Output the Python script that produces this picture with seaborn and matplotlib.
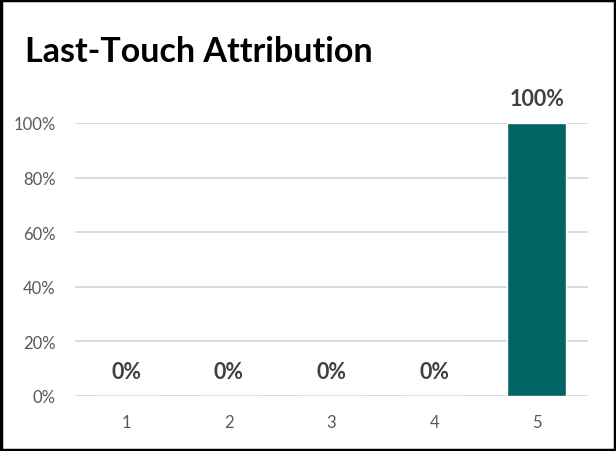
import matplotlib
matplotlib.use("Agg")
import matplotlib.pyplot as plt
import seaborn as sns
import pandas as pd
from matplotlib.patches import Rectangle
from matplotlib.ticker import PercentFormatter

categories = ["1", "2", "3", "4", "5"]
values = [0.0, 0.0, 0.0, 0.0, 1.0]
labels = ["0%", "0%", "0%", "0%", "100%"]
yticks = [0, 0.2, 0.4, 0.6, 0.8, 1.0]

sns.set_theme(style="white")
plt.rcParams["font.family"] = ["Lato", "DejaVu Sans"]

df = pd.DataFrame({"touch": categories, "share": values})

fig = plt.figure(figsize=(6.16, 4.52), dpi=100)
ax = fig.add_axes([0.1218, 0.1217, 0.8327, 0.604])
sns.barplot(data=df, x="touch", y="share", color="#016464", width=0.57,
            saturation=1, ax=ax)

ax.set_xlim(-0.5, 4.5)
ax.set_ylim(0, 1.0)
ax.set_yticks(yticks)
ax.yaxis.set_major_formatter(PercentFormatter(1.0, decimals=0))
ax.grid(axis="y", color="#d9d9d9", linewidth=1.3)
ax.set_axisbelow(True)
for s in ax.spines.values():
    s.set_visible(False)
ax.tick_params(axis="both", length=0, labelsize=12, colors="#595959")
ax.tick_params(axis="y", pad=14)
ax.tick_params(axis="x", pad=13)
ax.set_xlabel("")
ax.set_ylabel("")

for i, (v, lab) in enumerate(zip(values, labels)):
    ax.annotate(lab, xy=(i, v), xytext=(0, 10), textcoords="offset points",
                ha="center", va="bottom", fontsize=15.5, fontweight="bold",
                color="#404040")

fig.text(0.04, 0.885, "Last-Touch Attribution", fontsize=24.5, fontweight="bold",
         color="black", ha="left", va="center")

fig.patches.append(Rectangle((0.002, 0.002), 0.996, 0.996, transform=fig.transFigure,
                             fill=False, edgecolor="black", linewidth=2.5))

fig.savefig("out.png", dpi=100)
